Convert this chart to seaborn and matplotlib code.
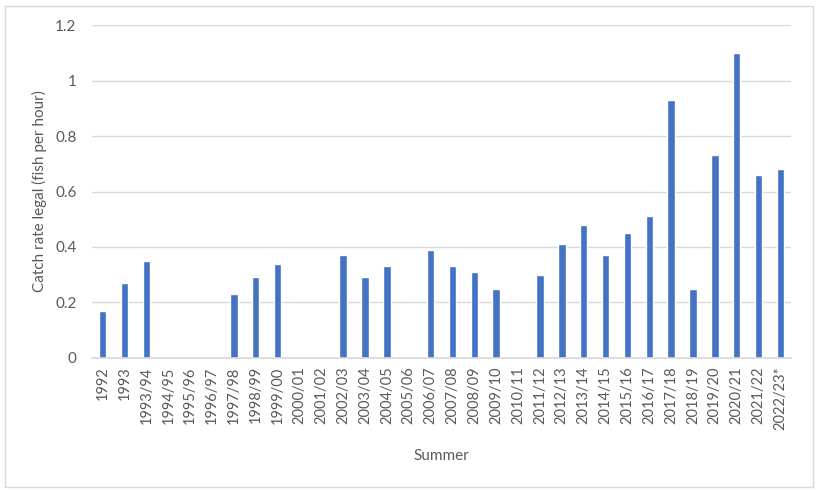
import matplotlib
matplotlib.use("Agg")
import matplotlib.pyplot as plt
from matplotlib.patches import Rectangle
import seaborn as sns
import pandas as pd
import numpy as np

seasons = ["1992", "1993", "1993/94", "1994/95", "1995/96", "1996/97", "1997/98",
           "1998/99", "1999/00", "2000/01", "2001/02", "2002/03", "2003/04", "2004/05",
           "2005/06", "2006/07", "2007/08", "2008/09", "2009/10", "2010/11", "2011/12",
           "2012/13", "2013/14", "2014/15", "2015/16", "2016/17", "2017/18", "2018/19",
           "2019/20", "2020/21", "2021/22", "2022/23*"]
catch_rate = [0.17, 0.27, 0.35, np.nan, np.nan, np.nan, 0.23,
              0.29, 0.34, np.nan, np.nan, 0.37, 0.29, 0.33,
              np.nan, 0.39, 0.33, 0.31, 0.25, np.nan, 0.30,
              0.41, 0.48, 0.37, 0.45, 0.51, 0.93, 0.25,
              0.73, 1.10, 0.66, 0.68]
y_ticks = [0, 0.2, 0.4, 0.6, 0.8, 1, 1.2]
y_tick_labels = ["0", "0.2", "0.4", "0.6", "0.8", "1", "1.2"]

sns.set_theme(style="white")
plt.rcParams['font.family'] = ['Lato', 'DejaVu Sans']

df = pd.DataFrame({"Summer": seasons, "Rate": catch_rate})

fig = plt.figure(figsize=(8.2, 4.93), dpi=100)
ax = fig.add_axes([0.112, 0.274, 0.853, 0.675])

sns.barplot(data=df, x="Summer", y="Rate", order=seasons, color="#4472C4",
            width=0.34, saturation=1, errorbar=None, ax=ax)

ax.set_ylim(0, 1.2)
ax.set_xlim(-0.5, len(seasons) - 0.5)
ax.set_yticks(y_ticks)
ax.set_yticklabels(y_tick_labels)
ax.yaxis.grid(True, color="#D9D9D9", linewidth=1)
ax.set_axisbelow(True)
for side in ["top", "right", "left"]:
    ax.spines[side].set_visible(False)
ax.spines["bottom"].set_color("#D9D9D9")
ax.tick_params(axis="x", rotation=90, labelsize=10.5, colors="#595959", length=0, pad=6)
ax.tick_params(axis="y", labelsize=11, colors="#595959", length=0, pad=11)

ax.set_xlabel("Summer", fontsize=11, color="#595959", labelpad=14)
ax.set_ylabel("Catch rate legal (fish per hour)", fontsize=11, color="#595959", labelpad=6)

fig.patches.append(Rectangle((0.006, 0.012), 0.985, 0.976, transform=fig.transFigure,
                             fill=False, edgecolor="#D9D9D9", linewidth=1))

fig.savefig("out.png", dpi=100)
